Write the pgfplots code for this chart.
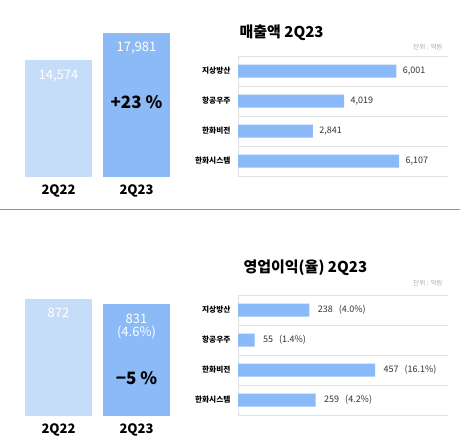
\documentclass[border=0pt]{standalone}
\usepackage{fontspec}
\setmainfont{Noto Sans CJK KR}
\usepackage{pgfplots}
\pgfplotsset{compat=1.18}
\definecolor{lightbar}{RGB}{198,221,250}
\definecolor{darkbar}{RGB}{140,186,246}
\definecolor{hbar}{RGB}{138,186,247}
\definecolor{gridc}{RGB}{225,225,225}
\pgfplotsset{
  leftpanel/.style={
    anchor=south west, scale only axis, width=163.8pt, height=157pt,
    xmin=-0.55, xmax=1.55, ymin=0,
    axis line style={draw=none}, ytick=\empty,
    xtick={0,1}, xticklabels={2Q22,2Q23}, major tick length=0pt,
    xticklabel style={font=\bfseries\fontsize{13}{13}\selectfont, yshift=-4pt},
    ybar, bar width=67pt, clip=false,
    point meta=explicit symbolic, nodes near coords,
    nodes near coords style={anchor=north, yshift=-6pt, text=white, align=center,
      font=\fontsize{13}{13}\selectfont},
  },
  rightpanel/.style={
    anchor=south west, scale only axis, width=210pt, height=120pt,
    xmin=0, ymin=-0.5, ymax=3.5, y dir=reverse,
    xbar, bar width=13pt,
    axis line style={draw=none}, xtick=\empty,
    ytick={0,1,2,3},
    yticklabels={지상방산,항공우주,한화비전,한화시스템},
    yticklabel style={font=\bfseries\fontsize{7.7}{8}\selectfont, xshift=-4pt},
    minor ytick={-0.5,0.5,1.5,2.5,3.5}, yminorgrids,
    minor grid style={gridc, line width=0.8pt},
    major tick length=0pt, minor tick length=0pt,
    extra x ticks={0}, extra x tick labels={},
    extra x tick style={grid=major, major grid style={gridc, line width=0.8pt}},
    point meta=explicit symbolic, nodes near coords,
    nodes near coords style={anchor=west, font=\fontsize{9}{9}\selectfont, text=black!80},
    clip=false,
  },
}
\begin{document}
\begin{tikzpicture}
\fill[white] (0,0) rectangle (474pt,440pt);
\useasboundingbox (0,0) rectangle (474pt,440pt);
% separator
\draw[gray!85, line width=1pt] (0,231pt) -- (460pt,231pt);

% top-left
\begin{axis}[leftpanel, at={(15.6pt,263pt)}, ymax=19604]
\addplot[fill=lightbar, draw=none, bar shift=0pt] coordinates {(0,14574) [{14,574}]};
\addplot[fill=darkbar, draw=none, bar shift=0pt] coordinates {(1,17981) [{17,981}]};
\node[font=\bfseries\fontsize{17}{17}\selectfont] at (axis cs:1,9365) {+23 \%};
\end{axis}

% bottom-left
\begin{axis}[leftpanel, at={(15.6pt,24pt)}, ymax=1170]
\addplot[fill=lightbar, draw=none, bar shift=0pt] coordinates {(0,872) [{872}]};
\addplot[fill=darkbar, draw=none, bar shift=0pt] coordinates {(1,831) [{831\\(4.6\%)}]};
\node[font=\bfseries\fontsize{17}{17}\selectfont] at (axis cs:1,283) {−5 \%};
\end{axis}

% top-right
\node[anchor=west, font=\bfseries\fontsize{15}{15}\selectfont] at (236pt,407pt) {매출액 2Q23};
\node[anchor=east, font=\fontsize{6.5}{7}\selectfont, text=gray!70] at (446pt,393pt) {단위 : 억원};
\begin{axis}[rightpanel, at={(238pt,264pt)}, xmax=7960,
  nodes near coords style={xshift=3pt}]
\addplot[fill=hbar, draw=none] coordinates {
  (6001,0) [{6,001}]
  (4019,1) [{4,019}]
  (2841,2) [{2,841}]
  (6107,3) [{6,107}]
};
\end{axis}

% bottom-right
\node[anchor=west, font=\bfseries\fontsize{15}{15}\selectfont] at (240pt,172pt) {영업이익(율) 2Q23};
\node[anchor=east, font=\fontsize{6.5}{7}\selectfont, text=gray!70] at (446pt,157pt) {단위 : 억원};
\begin{axis}[rightpanel, at={(238pt,25pt)}, xmax=700,
  nodes near coords style={xshift=5pt}]
\addplot[fill=hbar, draw=none] coordinates {
  (238,0) [{238\hspace{6pt}(4.0\%)}]
  (55,1) [{55\hspace{6pt}(1.4\%)}]
  (457,2) [{457\hspace{6pt}(16.1\%)}]
  (259,3) [{259\hspace{6pt}(4.2\%)}]
};
\end{axis}
\end{tikzpicture}
\end{document}
